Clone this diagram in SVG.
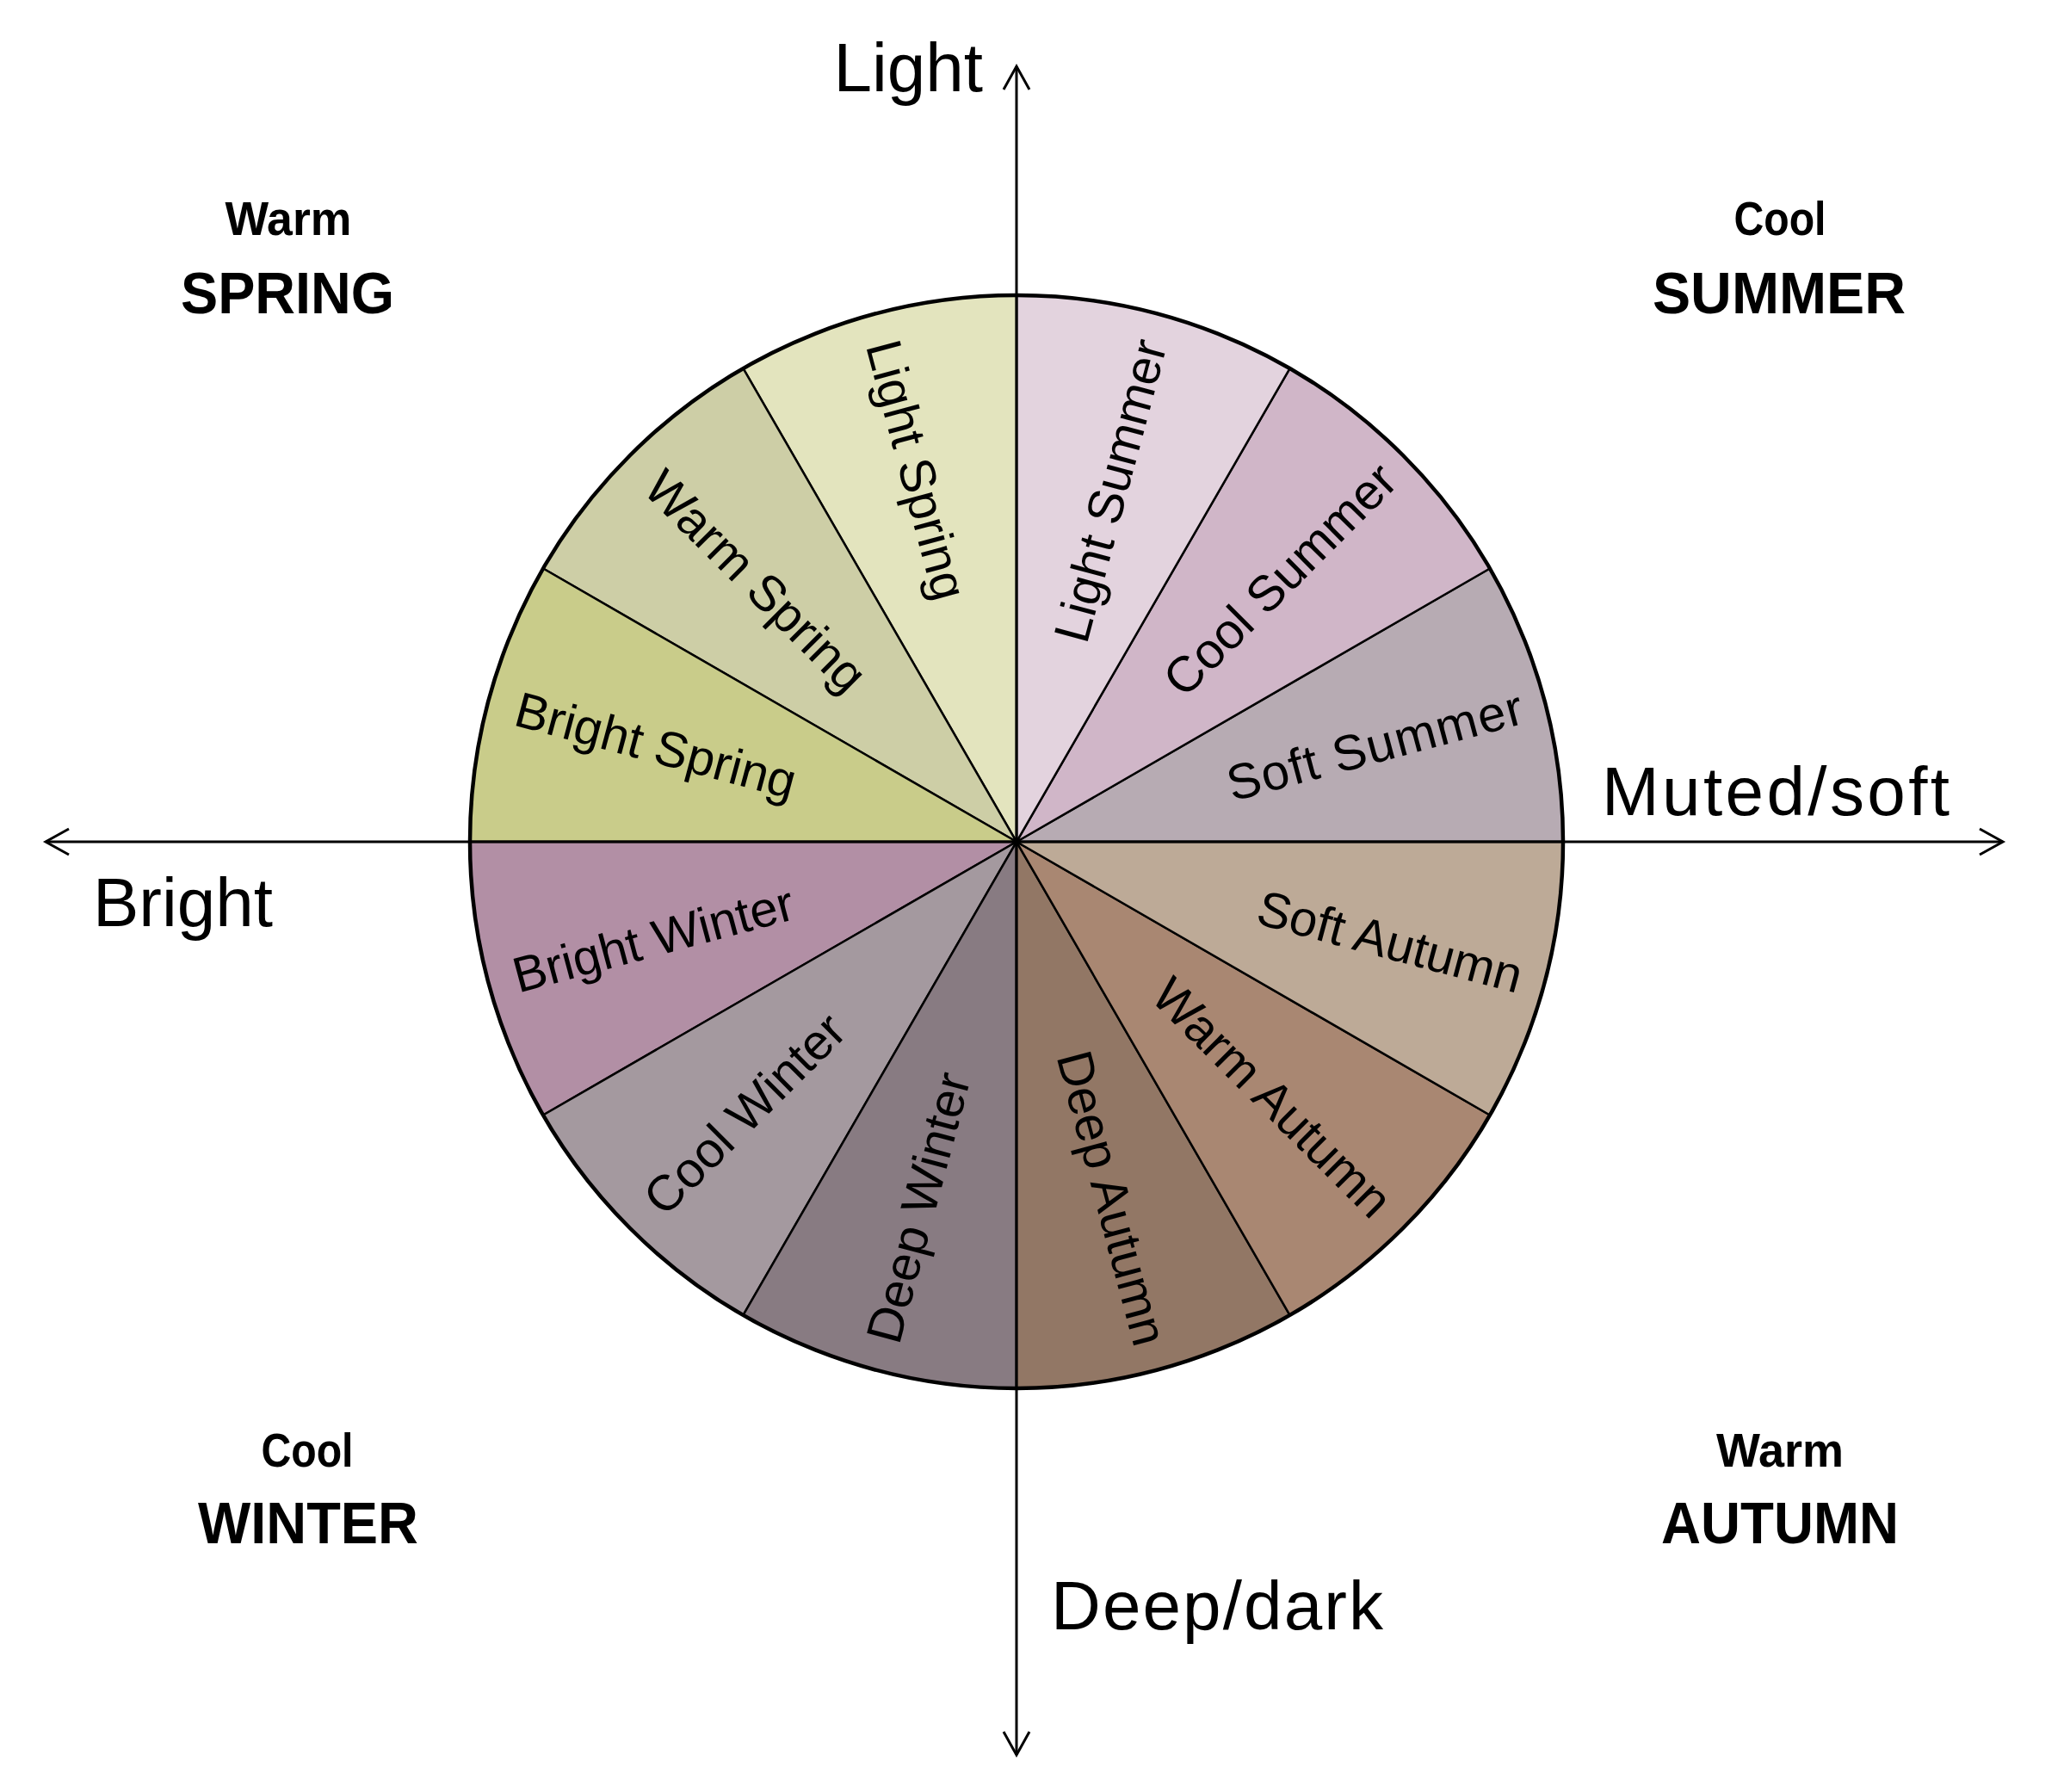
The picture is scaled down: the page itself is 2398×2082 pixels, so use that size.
<svg xmlns="http://www.w3.org/2000/svg" width="2398" height="2082" viewBox="0 0 2398 2082">
<style>
.wedge{stroke:#000;stroke-width:2.5;stroke-linejoin:round}
.rim{fill:none;stroke:#000;stroke-width:4.5}
.axis{stroke:#000;stroke-width:3;fill:none}
.axlbl{font-family:"Liberation Sans",Arial,sans-serif;font-size:80px;fill:#000}
.wl{font-family:"Liberation Sans",Arial,sans-serif;font-size:58px;fill:#000;text-anchor:middle}
.qs{font-family:"Liberation Sans",Arial,sans-serif;font-weight:bold;font-size:55px;fill:#000;text-anchor:middle}
.qb{font-family:"Liberation Sans",Arial,sans-serif;font-weight:bold;font-size:69px;fill:#000;text-anchor:middle}
</style>
<defs>
<marker id="arr" viewBox="-30 -18 34 36" markerWidth="34" markerHeight="36" refX="0" refY="0" markerUnits="userSpaceOnUse" orient="auto-start-reverse">
<path d="M-27,-15 L0,0 L-27,15" fill="none" stroke="#000" stroke-width="3"/>
</marker>
</defs>
<rect width="2398" height="2082" fill="#fff"/>
<g id="wheel">
<g id="soft-summer"><path class="wedge" fill="#B7ABB3" d="M1181,978 L1816,978 A635,635 0 0 0 1730.9,660.5 Z"/><text class="wl" style="letter-spacing:1.5px" fill="#222" transform="translate(1598,866) rotate(-15)" dy="20">Soft Summer</text></g>
<g id="cool-summer"><path class="wedge" fill="#D0B6C8" d="M1181,978 L1730.9,660.5 A635,635 0 0 0 1498.5,428.1 Z"/><text class="wl" transform="translate(1487,673) rotate(-45)" dy="20">Cool Summer</text></g>
<g id="light-summer"><path class="wedge" fill="#E3D3DE" d="M1181,978 L1498.5,428.1 A635,635 0 0 0 1181,343 Z"/><text class="wl" transform="translate(1290,570) rotate(-75)" dy="20">Light Summer</text></g>
<g id="light-spring"><path class="wedge" fill="#E3E4BE" d="M1181,978 L1181,343 A635,635 0 0 0 863.5,428.1 Z"/><text class="wl" transform="translate(1065,546) rotate(75)" dy="20">Light Spring</text></g>
<g id="warm-spring"><path class="wedge" fill="#CDCEA6" d="M1181,978 L863.5,428.1 A635,635 0 0 0 631.1,660.5 Z"/><text class="wl" transform="translate(878,675) rotate(45)" dy="20">Warm Spring</text></g>
<g id="bright-spring"><path class="wedge" fill="#C9CC8A" d="M1181,978 L631.1,660.5 A635,635 0 0 0 546,978 Z"/><text class="wl" transform="translate(762,866) rotate(15)" dy="20">Bright Spring</text></g>
<g id="bright-winter"><path class="wedge" fill="#B28FA5" d="M1181,978 L546,978 A635,635 0 0 0 631.1,1295.5 Z"/><text class="wl" transform="translate(759,1091) rotate(-15)" dy="20">Bright Winter</text></g>
<g id="cool-winter"><path class="wedge" fill="#A4999F" d="M1181,978 L631.1,1295.5 A635,635 0 0 0 863.5,1527.9 Z"/><text class="wl" transform="translate(865,1294) rotate(-45)" dy="20">Cool Winter</text></g>
<g id="deep-winter"><path class="wedge" fill="#887B82" d="M1181,978 L863.5,1527.9 A635,635 0 0 0 1181,1613 Z"/><text class="wl" transform="translate(1067,1403) rotate(-75)" dy="20">Deep Winter</text></g>
<g id="deep-autumn"><path class="wedge" fill="#927765" d="M1181,978 L1181,1613 A635,635 0 0 0 1498.5,1527.9 Z"/><text class="wl" transform="translate(1292,1392) rotate(75)" dy="20">Deep Autumn</text></g>
<g id="warm-autumn"><path class="wedge" fill="#A98772" d="M1181,978 L1498.5,1527.9 A635,635 0 0 0 1730.9,1295.5 Z"/><text class="wl" transform="translate(1478,1275) rotate(45)" dy="20">Warm Autumn</text></g>
<g id="soft-autumn"><path class="wedge" fill="#BDAA97" d="M1181,978 L1730.9,1295.5 A635,635 0 0 0 1816,978 Z"/><text class="wl" transform="translate(1615,1094) rotate(15)" dy="20">Soft Autumn</text></g>
<circle class="rim" cx="1181" cy="978" r="635"/>
</g>
<g id="connectors">
<line class="axis" x1="1181" y1="2039" x2="1181" y2="77" marker-start="url(#arr)" marker-end="url(#arr)"/>
<line class="axis" x1="53" y1="978" x2="2327" y2="978" marker-start="url(#arr)" marker-end="url(#arr)"/>
</g>
<g id="axis-labels">
<text id="lbl-light" class="axlbl" x="1142" y="106" text-anchor="end">Light</text>
<text id="lbl-muted" class="axlbl" x="1861" y="947" textLength="404">Muted/soft</text>
<text id="lbl-bright" class="axlbl" x="108" y="1076">Bright</text>
<text id="lbl-deep" class="axlbl" x="1221" y="1893" textLength="386">Deep/dark</text>
</g>
<g id="spring"><text class="qs" x="335" y="273" textLength="147" lengthAdjust="spacingAndGlyphs">Warm</text><text class="qb" x="334" y="364" textLength="248" lengthAdjust="spacingAndGlyphs">SPRING</text></g>
<g id="summer"><text class="qs" x="2068" y="273" textLength="107" lengthAdjust="spacingAndGlyphs">Cool</text><text class="qb" x="2067" y="364" textLength="294" lengthAdjust="spacingAndGlyphs">SUMMER</text></g>
<g id="winter"><text class="qs" x="357" y="1704" textLength="107" lengthAdjust="spacingAndGlyphs">Cool</text><text class="qb" x="358" y="1793" textLength="256" lengthAdjust="spacingAndGlyphs">WINTER</text></g>
<g id="autumn"><text class="qs" x="2068" y="1704" textLength="148" lengthAdjust="spacingAndGlyphs">Warm</text><text class="qb" x="2068" y="1793" textLength="276" lengthAdjust="spacingAndGlyphs">AUTUMN</text></g>
</svg>
